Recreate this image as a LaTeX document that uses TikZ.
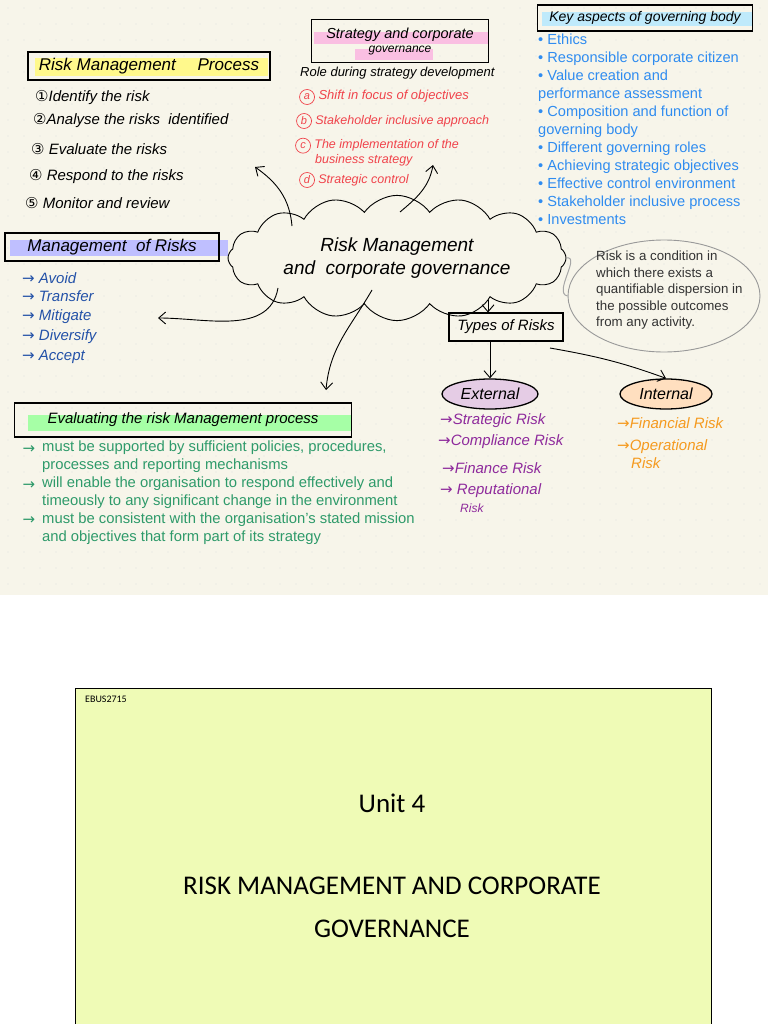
\documentclass[tikz,border=0pt]{standalone}
\usepackage{fontspec}
\setmainfont{Liberation Sans}
\newfontfamily\dv{DejaVu Sans}
\newfontfamily\calibri{Carlito}
\usetikzlibrary{shapes.symbols,shapes.geometric,arrows.meta}
\definecolor{bg}{HTML}{F7F5EA}
\definecolor{kblue}{HTML}{2F8CF0}
\definecolor{kred}{HTML}{F0434B}
\definecolor{kpurp}{HTML}{8E2A9C}
\definecolor{kor}{HTML}{F59A1E}
\definecolor{kgreen}{HTML}{2E9A6A}
\definecolor{knavy}{HTML}{2452A8}
\definecolor{slide}{HTML}{EFFBB6}
\newcommand{\circlet}[1]{\tikz[baseline=(X.base)]\node[circle,draw,line width=0.7pt,inner sep=0pt,minimum size=15pt](X){\fontsize{11}{11}\selectfont #1};}
\tikzset{
 hand/.style={font=\fontsize{15}{18}\selectfont\itshape\rmfamily, anchor=west, inner sep=0},
 print/.style={font=\fontsize{14.6}{18}\selectfont, anchor=north west, inner sep=0, align=left},
 hbox/.style={draw=black, line width=1.1pt, inner sep=0, minimum height=28pt},
 arr/.style={-{Straight Barb[length=7pt,width=12pt]}, line width=0.9pt},
}
\begin{document}
\begin{tikzpicture}[x=1pt,y=-1pt]
\useasboundingbox (0,0) rectangle (768,1024);
\fill[white] (0,0) rectangle (768,1024);
\fill[bg] (0,0) rectangle (768,595);
\foreach \i in {0,...,47}{\foreach \j in {0,...,36}{\fill[black!12] (8+\i*16,8+\j*16) circle (0.6);}}
% Risk management process
\fill[yellow!45] (35,58) rectangle (268,76);
\node[hbox, minimum width=242pt] (rmp) at (149,66) {\fontsize{17}{17}\selectfont\itshape Risk Management \quad Process};
\node[hand] (p1) at (35,98) {{\dv ①}Identify the risk};
\node[hand] (p2) at (33,121) {{\dv ②}Analyse the risks \ identified};
\node[hand] (p3) at (31,149) {{\dv ③} Evaluate the risks};
\node[hand] (p4) at (29,177) {{\dv ④} Respond to the risks};
\node[hand] (p5) at (25,203) {{\dv ⑤} Monitor and review};
% Management of risks
\fill[blue!25] (10,240) rectangle (228,256);
\node[hbox, minimum width=214pt] (mor) at (112,247) {\fontsize{17}{17}\selectfont\itshape Management \ of Risks};
\foreach \t/\y in {Avoid/278,Transfer/296,Mitigate/317,Diversify/337,Accept/357}{
 \node[hand, text=knavy] at (22,\y) {{\dv →} \t};}
% Strategy
\fill[magenta!25] (314,32) rectangle (488,44);
\fill[magenta!25] (355,49) rectangle (433,60);
\node[hbox, minimum width=177pt, minimum height=43pt, align=center, font=\fontsize{14.5}{15}\selectfont\itshape] (scg) at (400,41) {Strategy and corporate\\[-1pt] {\fontsize{12}{12}\selectfont governance}};
\node[hand, font=\fontsize{13}{13}\selectfont\itshape] (role) at (300,73) {Role during strategy development};
\node[hand, text=kred, font=\fontsize{13}{13}\selectfont\itshape] at (299,97) {\circlet{a} Shift in focus of objectives};
\node[hand, text=kred, font=\fontsize{12.5}{13}\selectfont\itshape] at (296,121) {\circlet{b} Stakeholder inclusive approach};
\node[hand, text=kred, font=\fontsize{12.5}{15}\selectfont\itshape, align=left] at (295,152) {\circlet{c} The implementation of the\\ \hspace*{20pt}business strategy};
\node[hand, text=kred, font=\fontsize{12.5}{13}\selectfont\itshape] at (299,180) {\circlet{d} Strategic control};
% Key aspects
\fill[cyan!25] (542,12) rectangle (752,26);
\node[hbox, minimum width=215pt, minimum height=26pt, font=\fontsize{14}{14}\selectfont\itshape] (key) at (645,18) {Key aspects of governing body};
\node[print, text=kblue] (kl) at (538,34) {• Ethics\\ • Responsible corporate citizen\\ • Value creation and\\ performance assessment\\ • Composition and function of\\ governing body\\ • Different governing roles\\ • Achieving strategic objectives\\ • Effective control environment\\ • Stakeholder inclusive process\\ • Investments};
% cloud
\node[cloud, cloud puffs=16, cloud puff arc=110, aspect=3.4, draw, line width=0.9pt, fill=bg, minimum width=338pt, minimum height=100pt, align=center, font=\fontsize{19}{23}\selectfont\itshape, inner sep=0] (c) at (397,258) {Risk Management\\ and \ corporate governance};
% definition ellipse
\node[ellipse, draw=black!40, line width=0.9pt, minimum width=192pt, minimum height=112pt] (def) at (664,296) {};
\node[print, text=black!80, font=\fontsize{13.3}{16.5}\selectfont] at (596,251) {Risk is a condition in\\ which there exists a\\ quantifiable dispersion in\\ the possible outcomes\\ from any activity.};
\draw[black!35, line width=1pt] (c.east) to[out=10,in=170] (def.west);
% types
\node[hbox, minimum width=114pt, minimum height=28pt, font=\fontsize{15}{15}\selectfont\itshape] (types) at (506,327) {Types of Risks};
\node[ellipse, draw, line width=1.3pt, fill=violet!20, minimum width=96pt, minimum height=30pt, font=\fontsize{16}{16}\selectfont\itshape] (ext) at (490,394) {External};
\node[ellipse, draw, line width=1.3pt, fill=orange!25, minimum width=92pt, minimum height=30pt, font=\fontsize{16}{16}\selectfont\itshape] (int) at (666,394) {Internal};
\node[hand, text=kpurp] at (440,421) {{\dv →}Strategic Risk};
\node[hand, text=kpurp] at (438,442) {{\dv →}Compliance Risk};
\node[hand, text=kpurp] at (442,468) {{\dv →}Finance Risk};
\node[hand, text=kpurp, align=left] at (440,498) {{\dv →} Reputational\\ \hspace*{20pt}{\fontsize{12}{13}\selectfont Risk}};
\node[hand, text=kor] at (617,423) {{\dv →}Financial Risk};
\node[hand, text=kor, align=left] at (617,454) {{\dv →}Operational\\ \hspace*{14pt}Risk};
% evaluating
\fill[green!35] (28,415) rectangle (352,431);
\node[hbox, minimum width=337pt, minimum height=34pt, font=\fontsize{15}{15}\selectfont\itshape] (eval) at (183,420) {Evaluating the risk Management process};
\node[print, text=kgreen, font=\fontsize{14.8}{18}\selectfont] (el) at (42,441) {must be supported by sufficient policies, procedures,\\ processes and reporting mechanisms\\ will enable the organisation to respond effectively and\\ timeously to any significant change in the environment\\ must be consistent with the organisation's stated mission\\ and objectives that form part of its strategy};
\foreach \y in {450,486,521}{\node[text=kgreen, font=\dv\fontsize{15}{15}\selectfont, inner sep=0] at (29,\y) {→};}
% connectors
\coordinate (s1) at (292,226);
\coordinate (s2) at (400,212);
\coordinate (s3) at (278,288);
\coordinate (s4) at (372,290);
\coordinate (s5) at (488,300);
\coordinate (s6) at (550,348);
\draw[arr] (s1) to[out=95,in=-35] (255,167);
\draw[arr] (s2) to[out=40,in=-100] (433,165);
\draw[arr] (s3) to[out=-100,in=0] (158,318);
\draw[arr] (s4) to[out=-120,in=85] (326,390);
\draw[arr] (s5) -- (types.north -| s5);
\draw[arr] (types.south -| ext.north) -- (ext.north);
\draw[arr] (s6) to[out=-10,in=160] (int.north);
% slide
\draw[black, fill=slide, line width=0.8pt] (75,688) rectangle (711,1030);
\node[anchor=north west, font=\calibri\fontsize{10}{12}\selectfont, inner sep=0] (code) at (85,696) {EBUS2715};
\node[font=\calibri\fontsize{27}{30}\selectfont] (unit) at (392,803) {Unit 4};
\node[font=\calibri\fontsize{27}{43}\selectfont, align=center] (title) at (392,907) {RISK MANAGEMENT AND CORPORATE\\ GOVERNANCE};
\end{tikzpicture}
\end{document}
